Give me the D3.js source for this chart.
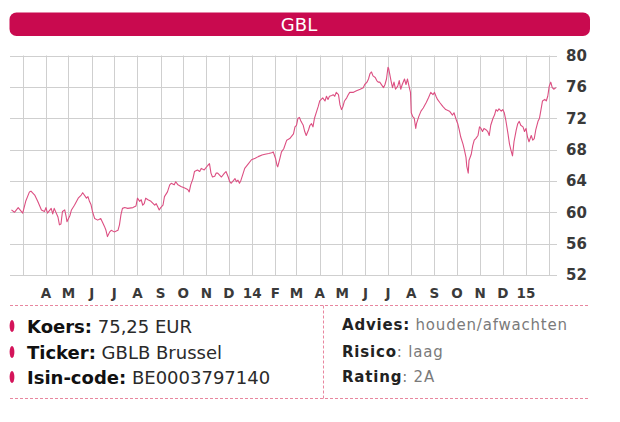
<!DOCTYPE html>
<html>
<head>
<meta charset="utf-8">
<script src="https://cdn.jsdelivr.net/npm/d3@7"></script>
<style>
    body { margin: 0; background: #fff; }
    svg text { font-family: "DejaVu Sans", sans-serif; }
</style>
</head>
<body>
<div id="chart"></div>
<script>
// koers GBL (approx. every few days)
const dates = [
    "2013-02-14", "2013-02-18", "2013-02-23",
    "2013-03-01", "2013-03-05", "2013-03-10", "2013-03-12", "2013-03-17", "2013-03-21", "2013-03-26", "2013-03-30",
    "2013-04-01", "2013-04-03", "2013-04-08", "2013-04-10", "2013-04-12", "2013-04-17", "2013-04-19", "2013-04-21", "2013-04-23", "2013-04-26", "2013-04-28", "2013-04-29",
    "2013-05-03", "2013-05-05", "2013-05-09", "2013-05-14", "2013-05-18", "2013-05-20", "2013-05-25", "2013-05-27", "2013-05-29", "2013-05-31",
    "2013-06-02", "2013-06-05", "2013-06-09", "2013-06-13", "2013-06-16", "2013-06-18", "2013-06-20", "2013-06-22", "2013-06-25", "2013-06-27",
    "2013-07-01", "2013-07-06", "2013-07-08", "2013-07-10", "2013-07-12", "2013-07-15", "2013-07-19", "2013-07-26", "2013-07-30",
    "2013-08-01", "2013-08-04", "2013-08-06", "2013-08-08", "2013-08-10", "2013-08-12", "2013-08-15", "2013-08-19", "2013-08-24", "2013-08-26", "2013-08-28", "2013-08-30",
    "2013-09-01", "2013-09-04", "2013-09-06", "2013-09-10", "2013-09-13", "2013-09-15", "2013-09-19", "2013-09-21", "2013-09-24", "2013-09-28",
    "2013-10-03", "2013-10-07", "2013-10-09", "2013-10-11", "2013-10-14", "2013-10-16", "2013-10-20", "2013-10-23", "2013-10-25", "2013-10-29",
    "2013-11-03", "2013-11-05", "2013-11-07", "2013-11-09", "2013-11-12", "2013-11-14", "2013-11-16", "2013-11-21", "2013-11-25", "2013-11-27", "2013-11-30",
    "2013-12-02", "2013-12-04", "2013-12-09", "2013-12-11", "2013-12-13", "2013-12-15", "2013-12-17", "2013-12-20", "2013-12-22", "2013-12-27", "2013-12-31",
    "2014-01-05", "2014-01-09", "2014-01-14", "2014-01-18", "2014-01-23", "2014-01-27", "2014-01-29",
    "2014-02-01", "2014-02-03", "2014-02-04", "2014-02-07", "2014-02-09", "2014-02-12", "2014-02-16", "2014-02-20", "2014-02-25", "2014-02-27",
    "2014-03-01", "2014-03-03", "2014-03-05", "2014-03-07", "2014-03-10", "2014-03-12", "2014-03-14", "2014-03-17", "2014-03-19", "2014-03-21", "2014-03-23", "2014-03-25", "2014-03-28", "2014-03-30",
    "2014-04-01", "2014-04-03", "2014-04-05", "2014-04-08", "2014-04-10", "2014-04-12", "2014-04-14", "2014-04-17", "2014-04-19", "2014-04-21", "2014-04-23", "2014-04-26", "2014-04-28", "2014-04-30",
    "2014-05-02", "2014-05-04", "2014-05-07", "2014-05-09", "2014-05-11", "2014-05-16", "2014-05-20", "2014-05-25", "2014-05-29", "2014-05-31",
    "2014-06-03", "2014-06-05", "2014-06-07", "2014-06-09", "2014-06-11", "2014-06-14", "2014-06-16", "2014-06-18", "2014-06-20", "2014-06-25", "2014-06-27", "2014-06-29",
    "2014-07-01", "2014-07-02", "2014-07-05", "2014-07-07", "2014-07-09", "2014-07-11", "2014-07-14", "2014-07-16", "2014-07-18", "2014-07-20", "2014-07-23", "2014-07-25", "2014-07-27", "2014-07-29", "2014-07-31",
    "2014-08-01", "2014-08-03", "2014-08-05", "2014-08-07", "2014-08-08", "2014-08-11", "2014-08-14", "2014-08-17", "2014-08-21", "2014-08-24", "2014-08-27", "2014-08-30",
    "2014-09-01", "2014-09-03", "2014-09-05", "2014-09-08", "2014-09-12", "2014-09-16", "2014-09-21", "2014-09-25", "2014-09-27", "2014-09-30",
    "2014-10-02", "2014-10-04", "2014-10-06", "2014-10-09", "2014-10-11", "2014-10-13", "2014-10-14", "2014-10-16", "2014-10-17", "2014-10-20", "2014-10-22", "2014-10-24", "2014-10-26", "2014-10-29", "2014-10-31",
    "2014-11-02", "2014-11-04", "2014-11-06", "2014-11-09", "2014-11-11", "2014-11-13", "2014-11-15", "2014-11-18", "2014-11-20", "2014-11-22", "2014-11-24", "2014-11-26", "2014-11-29",
    "2014-12-01", "2014-12-03", "2014-12-05", "2014-12-08", "2014-12-10", "2014-12-12", "2014-12-14", "2014-12-16", "2014-12-19", "2014-12-21", "2014-12-23", "2014-12-25", "2014-12-28", "2014-12-30",
    "2015-01-01", "2015-01-03", "2015-01-05", "2015-01-08", "2015-01-10", "2015-01-12", "2015-01-14", "2015-01-17", "2015-01-19", "2015-01-21", "2015-01-23", "2015-01-26", "2015-01-28", "2015-01-30",
    "2015-02-01", "2015-02-03", "2015-02-05", "2015-02-07", "2015-02-10"
];

const koers = [
    60.3, 60.0, 60.6,
    59.9, 61.4, 62.6, 62.7, 62.2, 61.4, 60.3, 60.1,
    60.6, 59.9, 60.5, 59.8, 60.5, 59.4, 58.4, 58.5, 60.1, 60.3, 59.4, 58.8,
    59.6, 60.3, 60.9, 61.8, 62.2, 62.5, 61.8, 62.0, 61.4, 61.0,
    60.1, 59.2, 59.0, 59.2, 58.6, 58.2, 57.7, 56.9, 57.5, 57.7,
    57.5, 57.7, 58.4, 59.7, 60.5, 60.6, 60.5, 60.6, 60.8,
    61.8, 61.4, 61.6, 60.9, 61.1, 61.8, 61.6, 61.4, 60.9, 61.1, 60.7, 60.3,
    60.6, 60.9, 62.0, 62.6, 63.5, 63.7, 63.5, 63.9, 63.5, 63.3,
    63.1, 62.9, 62.6, 63.5, 64.3, 65.2, 65.4, 65.2, 65.6, 65.4,
    66.0, 66.2, 65.0, 64.5, 64.6, 65.0, 65.0, 64.5, 65.0, 65.2, 64.5,
    63.9, 63.7, 64.3, 63.9, 64.1, 63.7, 64.1, 65.0, 65.6, 66.2, 66.7,
    66.9, 67.1, 67.3, 67.4, 67.5, 67.6, 67.7,
    66.9, 66.0, 65.8, 66.9, 67.7, 68.1, 69.2, 69.4, 70.0, 70.9,
    71.1, 72.0, 72.1, 71.6, 71.1, 70.3, 69.8, 70.5, 71.1, 71.3, 70.9, 72.0, 72.9, 73.5,
    74.2, 74.4, 74.6, 74.2, 74.8, 74.4, 74.8, 74.9, 75.0, 74.8, 75.3, 75.0, 73.7, 73.1,
    73.5, 74.2, 74.6, 75.0, 75.3, 75.3, 75.5, 75.7, 75.9, 76.3,
    76.6, 77.0, 77.7, 77.9, 77.4, 77.2, 76.8, 76.6, 76.6, 75.9, 76.3, 77.0,
    78.5, 78.3, 76.8, 75.9, 76.6, 75.7, 76.1, 76.8, 75.7, 76.3, 77.0, 76.3, 77.0, 76.1, 75.3,
    72.7, 72.2, 72.0, 70.7, 71.3, 72.2, 72.9, 73.3, 74.0, 74.6, 75.3, 75.0,
    75.3, 74.8, 74.4, 74.0, 73.5, 73.1, 72.9, 72.4, 72.7, 71.8,
    71.3, 70.5, 69.6, 68.7, 67.9, 67.0, 65.9, 65.0, 66.6, 67.4, 68.5, 69.2, 69.4, 69.8, 70.9,
    70.7, 70.3, 70.7, 70.5, 70.3, 69.8, 71.1, 72.0, 72.4, 73.1, 72.9, 73.2, 72.9,
    73.1, 72.7, 71.8, 70.0, 68.7, 67.9, 67.2, 69.0, 70.5, 71.3, 71.6, 71.1, 70.9, 70.3,
    70.7, 69.6, 69.0, 69.8, 69.2, 69.4, 70.5, 71.6, 72.0, 73.1, 74.2, 74.4, 74.2, 74.8,
    76.1, 76.6, 75.9, 75.7, 75.9
];

const yTicks = [52, 56, 60, 64, 68, 72, 76, 80];

// one label per month gridline, march 2013 to february 2015
const monthLabels = ["", "A", "M", "J", "J", "A", "S", "O", "N", "D", "14", "F",
                     "M", "A", "M", "J", "J", "A", "S", "O", "N", "D", "15", ""];

const titel = "GBL";
const infoLinks = [["Koers:", " 75,25 EUR"], ["Ticker:", " GBLB Brussel"], ["Isin-code:", " BE0003797140"]];
const infoRechts = [["Advies:", " houden/afwachten"], ["Risico", ": laag"], ["Rating", ": 2A"]];

let W = 620,
    H = 422,
    ROOD = "#c90a4f",
    LIJN = "#dc4f82",
    GRID = "#cfcfcf",
    STIPPEL = "#e8869f";

let parseDate = d3.timeParse("%Y-%m-%d");
let data = dates.map(function (d, i) {
    return {date: parseDate(d), value: koers[i]};
});

let svg = d3.select("#chart").append("svg")
    .attr("width", W)
    .attr("height", H);

// title bar
svg.append("rect")
    .attr("x", 9.5).attr("y", 12.5)
    .attr("width", 580.5).attr("height", 23.5)
    .attr("rx", 7)
    .attr("fill", ROOD);

svg.append("text")
    .attr("x", 299).attr("y", 31)
    .attr("text-anchor", "middle")
    .attr("font-size", 18)
    .attr("fill", "#fff")
    .text(titel);

// scales
let x = d3.scaleTime()
    .domain([new Date(2013, 2, 1), new Date(2015, 0, 1)])
    .range([22.7, 526]);

let y = d3.scaleLinear()
    .domain([52, 80])
    .range([275, 55.5]);

let months = d3.timeMonth.range(new Date(2013, 2, 1), new Date(2015, 1, 2));

// grid
let grid = svg.append("g").attr("stroke", GRID).attr("stroke-width", 1);

grid.selectAll("line.h")
    .data(yTicks)
    .join("line")
    .attr("class", "h")
    .attr("x1", 10).attr("x2", 557)
    .attr("y1", d => Math.round(y(d)) + 0.5)
    .attr("y2", d => Math.round(y(d)) + 0.5);

grid.selectAll("line.v")
    .data(months)
    .join("line")
    .attr("class", "v")
    .attr("x1", d => Math.round(x(d)) + 0.5)
    .attr("x2", d => Math.round(x(d)) + 0.5)
    .attr("y1", y(80)).attr("y2", y(52));

// right axis labels
svg.append("g")
    .selectAll("text")
    .data(yTicks)
    .join("text")
    .attr("x", 566)
    .attr("y", d => y(d))
    .attr("dy", "0.36em")
    .attr("font-size", 15)
    .attr("font-weight", "bold")
    .attr("fill", "#3a3a3a")
    .text(d => d);

// month labels
svg.append("g")
    .selectAll("text")
    .data(months)
    .join("text")
    .attr("x", d => x(d))
    .attr("y", 298)
    .attr("text-anchor", "middle")
    .attr("font-size", 13.5)
    .attr("font-weight", "bold")
    .attr("fill", "#3a3a3a")
    .text((d, i) => monthLabels[i]);

// koerslijn
let line = d3.line()
    .x(d => x(d.date))
    .y(d => y(d.value));

svg.append("path")
    .datum(data)
    .attr("d", line)
    .attr("fill", "none")
    .attr("stroke", LIJN)
    .attr("stroke-width", 1.1)
    .attr("stroke-linejoin", "round");

// info block
let info = svg.append("g")
    .attr("stroke", STIPPEL)
    .attr("stroke-width", 1)
    .attr("stroke-dasharray", "3,2");

info.append("line").attr("x1", 10).attr("x2", 590).attr("y1", 305.5).attr("y2", 305.5);
info.append("line").attr("x1", 10).attr("x2", 590).attr("y1", 398.5).attr("y2", 398.5);
info.append("line").attr("x1", 323.5).attr("x2", 323.5).attr("y1", 305.5).attr("y2", 398.5);

let rowsL = [333, 359, 384],
    rowsR = [330, 356.5, 381.5];

svg.append("g")
    .selectAll("ellipse")
    .data(rowsL)
    .join("ellipse")
    .attr("cx", 12).attr("cy", d => d - 7)
    .attr("rx", 2.4).attr("ry", 6)
    .attr("fill", "#d4145a");

let left = svg.append("g")
    .selectAll("text")
    .data(infoLinks)
    .join("text")
    .attr("x", 27)
    .attr("y", (d, i) => rowsL[i])
    .attr("font-size", 18)
    .attr("fill", "#2a2a2a");

left.append("tspan").attr("font-weight", "bold").attr("fill", "#111").text(d => d[0]);
left.append("tspan").text(d => d[1]);

let right = svg.append("g")
    .selectAll("text")
    .data(infoRechts)
    .join("text")
    .attr("x", 342)
    .attr("y", (d, i) => rowsR[i])
    .attr("font-size", 15)
    .attr("letter-spacing", 0.8)
    .attr("fill", "#7a7a7a");

right.append("tspan").attr("font-weight", "bold").attr("fill", "#222").text(d => d[0]);
right.append("tspan").text(d => d[1]);
</script>
</body>
</html>
